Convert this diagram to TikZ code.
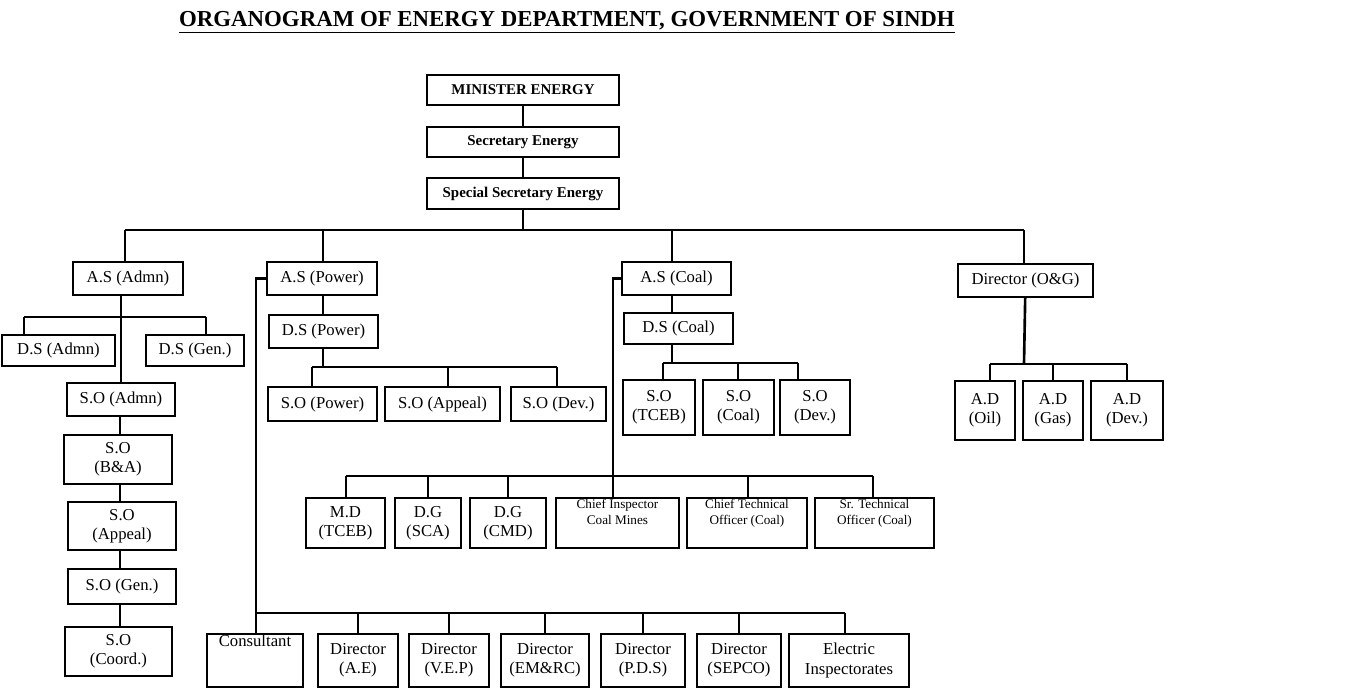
\documentclass[tikz,border=0pt]{standalone}
\usepackage{fontspec}
\setmainfont{Liberation Serif}
\usepackage{tikz}
\usetikzlibrary{calc}

\tikzset{
  box/.style={draw, line width=1.3pt, inner sep=0pt, align=center, font=\fontsize{9.5}{11}\selectfont},
  topbox/.style={box, font=\fontsize{8.5}{10}\selectfont\bfseries},
  smallbox/.style={box, font=\fontsize{7.5}{9}\selectfont},
  link/.style={line width=1.5pt}
}
% box from pixel corners: name, x1, x2, y1, y2, style, text
\newcommand\bx[7]{\node[#6, minimum width={(#3-#2)*0.02cm}, minimum height={(#5-#4)*0.02cm}]
  (#1) at ({(#2+#3)/2},{(#4+#5)/2}) {#7};}

\begin{document}
\begin{tikzpicture}[x=0.02cm, y=-0.02cm]
    %%Background
    \useasboundingbox (0,0) rectangle (1359,692);

    %%Title
    \node[font=\fontsize{13}{15}\selectfont\bfseries] (title) at (567,22)
      {\underline{ORGANOGRAM OF ENERGY DEPARTMENT, GOVERNMENT OF SINDH}};

    %%Top
    \bx{min}{427}{619}{75}{105}{topbox}{MINISTER ENERGY}
    \bx{sec}{427}{619}{127}{157}{topbox}{Secretary Energy}
    \bx{spec}{427}{619}{178}{209}{topbox}{Special Secretary Energy}

    %%Additional secretaries
    \bx{asadmn}{73}{183}{262}{295}{box}{A.S (Admn)}
    \bx{aspow}{267}{377}{262}{295}{box}{A.S (Power)}
    \bx{ascoal}{622}{731}{262}{295}{box}{A.S (Coal)}
    \bx{dirog}{958}{1093}{264}{297}{box}{Director (O\&G)}

    %%Admn wing
    \bx{dsadmn}{2}{115}{335}{366}{box}{D.S (Admn)}
    \bx{dsgen}{146}{244}{335}{366}{box}{D.S (Gen.)}
    \bx{soadmn}{67}{175}{383}{416}{box}{S.O (Admn)}
    \bx{soba}{64}{172}{435}{484}{box}{S.O\\(B\&A)}
    \bx{soapp}{68}{176}{502}{550}{box}{S.O\\(Appeal)}
    \bx{sogen}{68}{176}{569}{604}{box}{S.O (Gen.)}
    \bx{socoord}{65}{172}{627}{676}{box}{S.O\\(Coord.)}

    %%Power wing
    \bx{dspow}{269}{378}{315}{348}{box}{D.S (Power)}
    \bx{sopow}{268}{377}{387}{421}{box}{S.O (Power)}
    \bx{soappeal}{385}{500}{387}{421}{box}{S.O (Appeal)}
    \bx{sodevp}{511}{606}{387}{421}{box}{S.O (Dev.)}
    \bx{cons}{207}{303}{634}{687}{box}{Consultant\\[12pt]}
    \bx{dirae}{318}{398}{634}{687}{box}{Director\\(A.E)}
    \bx{dirvep}{409}{489}{634}{687}{box}{Director\\(V.E.P)}
    \bx{direm}{501}{589}{634}{687}{box}{Director\\(EM\&RC)}
    \bx{dirpds}{601}{685}{634}{687}{box}{Director\\(P.D.S)}
    \bx{dirsep}{697}{781}{634}{687}{box}{Director\\(SEPCO)}
    \bx{elec}{789}{909}{634}{687}{box}{Electric\\Inspectorates}

    %%Coal wing
    \bx{dscoal}{624}{733}{313}{344}{box}{D.S (Coal)}
    \bx{sotceb}{623}{695}{380}{435}{box}{S.O\\(TCEB)}
    \bx{socoal}{703}{774}{380}{435}{box}{S.O\\(Coal)}
    \bx{sodevc}{780}{850}{380}{435}{box}{S.O\\(Dev.)}
    \bx{mdtceb}{306}{385}{498}{548}{box}{M.D\\(TCEB)}
    \bx{dgsca}{395}{461}{498}{548}{box}{D.G\\(SCA)}
    \bx{dgcmd}{470}{546}{498}{548}{box}{D.G\\(CMD)}
    \bx{chinsp}{556}{679}{498}{548}{smallbox}{Chief Inspector\\Coal Mines\\[4pt]}
    \bx{chtech}{687}{807}{498}{548}{smallbox}{Chief Technical\\Officer (Coal)\\[4pt]}
    \bx{srtech}{815}{934}{498}{548}{smallbox}{Sr. Technical\\Officer (Coal)\\[4pt]}

    %%Oil and gas wing
    \bx{adoil}{955}{1015}{381}{440}{box}{A.D\\(Oil)}
    \bx{adgas}{1023}{1083}{381}{440}{box}{A.D\\(Gas)}
    \bx{addev}{1091}{1163}{381}{440}{box}{A.D\\(Dev.)}

    %%Bus points
    \coordinate (busa) at (125,230);
    \coordinate (busb) at (1024,230);
    \coordinate (admnbus) at (121,317);
    \coordinate (powbus) at (323,367);
    \coordinate (coalbus) at (672,363);
    \coordinate (ogbus) at (1024,364);
    \coordinate (dirbus) at (256,613);
    \coordinate (mdbus) at (613,476);

    %%Links
    \draw[link] (min) -- (sec);
    \draw[link] (sec) -- (spec);
    \draw[link] (spec) -- (spec |- busa);
    \draw[link] (busa) -- (busb);
    \draw[link] (busa) -- (busa |- asadmn.north);
    \draw[link] (323,230) -- (aspow.north -| 323,0);
    \draw[link] (672,230) -- (ascoal.north -| 672,0);
    \draw[link] (busb) -- (dirog.north -| busb);

    \draw[link] (asadmn.south -| admnbus) -- (soadmn.north -| admnbus);
    \draw[link] (24,317) -- (206,317);
    \draw[link] (24,317) -- (dsadmn.north -| 24,0);
    \draw[link] (206,317) -- (dsgen.north -| 206,0);
    \draw[link] (soadmn.south -| 120,0) -- (soba.north -| 120,0);
    \draw[link] (soba.south -| 120,0) -- (soapp.north -| 120,0);
    \draw[link] (soapp.south -| 120,0) -- (sogen.north -| 120,0);
    \draw[link] (sogen.south -| 120,0) -- (socoord.north -| 120,0);

    \draw[link] (aspow.south -| powbus) -- (dspow.north -| powbus);
    \draw[link] (dspow.south -| powbus) -- (powbus);
    \draw[link] (312,367) -- (557,367);
    \foreach \n/\x in {sopow/312, soappeal/448, sodevp/557}
      \draw[link] (\x,367) -- (\n.north -| \x,0);
    \draw[link] (aspow.west) -- (aspow.west -| dirbus) -- (cons.north -| dirbus);
    \draw[link] (dirbus) -- (845,613);
    \foreach \n/\x in {dirae/358, dirvep/449, direm/545, dirpds/643, dirsep/739, elec/845}
      \draw[link] (\x,613) -- (\n.north -| \x,0);

    \draw[link] (ascoal.south -| coalbus) -- (dscoal.north -| coalbus);
    \draw[link] (dscoal.south -| coalbus) -- (coalbus);
    \draw[link] (663,363) -- (798,363);
    \foreach \n/\x in {sotceb/663, socoal/738, sodevc/798}
      \draw[link] (\x,363) -- (\n.north -| \x,0);
    \draw[link] (ascoal.west) -- (ascoal.west -| mdbus) -- (mdbus);
    \draw[link] (346,476) -- (873,476);
    \foreach \n/\x in {mdtceb/346, dgsca/428, dgcmd/508, chinsp/613, chtech/748, srtech/873}
      \draw[link] (\x,476) -- (\n.north -| \x,0);

    \draw[link] (dirog) -- (ogbus);
    \draw[link] (990,364) -- (1127,364);
    \foreach \n/\x in {adoil/990, adgas/1053, addev/1127}
      \draw[link] (\x,364) -- (\n.north -| \x,0);
\end{tikzpicture}
\end{document}
